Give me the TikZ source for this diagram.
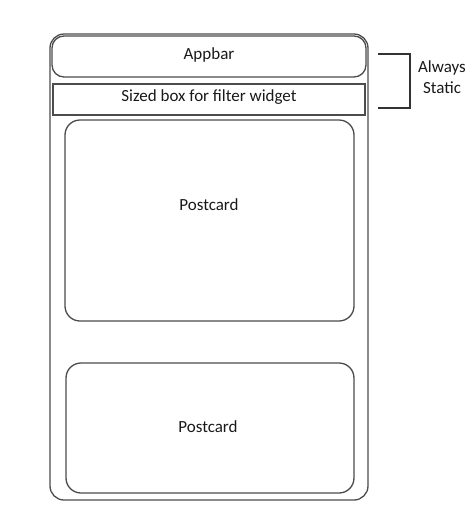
\documentclass[tikz,border=0pt]{standalone}
\usepackage{fontspec}
\setmainfont{Carlito}
\begin{document}
\begin{tikzpicture}[x=1pt,y=-1pt,
  frame/.style={draw=black!70,line width=1.3pt},
  box/.style={frame,inner sep=0pt,anchor=center},
  lbl/.style={font=\fontsize{17}{20.5}\selectfont,text=black!90,inner sep=0pt},
  brk/.style={draw=black!80,line width=1.1pt}]
\useasboundingbox (0,0) rectangle (474,528);
% phone
\node[box,rounded corners=14pt,minimum width=318pt,minimum height=466pt] (phone) at (209,267) {};
% appbar
\node[box,rounded corners=12pt,minimum width=314pt,minimum height=41pt] (appbar) at (209,56.5) {};
\node[lbl] (appbartext) at (209,55) {Appbar};
% sized box
\node[box,minimum width=312pt,minimum height=31pt] (sized) at (209,99.5) {};
\node[lbl] (sizedtext) at (209,97.5) {Sized box for filter widget};
% postcards
\node[box,rounded corners=15pt,minimum width=289pt,minimum height=201pt] (card1) at (209.5,220.5) {};
\node[lbl] (card1text) at (209,205) {Postcard};
\node[box,rounded corners=15pt,minimum width=288pt,minimum height=130pt] (card2) at (210,428) {};
\node[lbl] (card2text) at (208,427) {Postcard};
% bracket
\coordinate (b1) at (378,54);
\coordinate (b2) at (410,54);
\coordinate (b3) at (410,108);
\coordinate (b4) at (378,108);
\draw[brk] (b1) -- (b2) -- (b3) -- (b4);
\node[lbl,align=center] (static) at (442,77) {Always\\Static};
\end{tikzpicture}
\end{document}
